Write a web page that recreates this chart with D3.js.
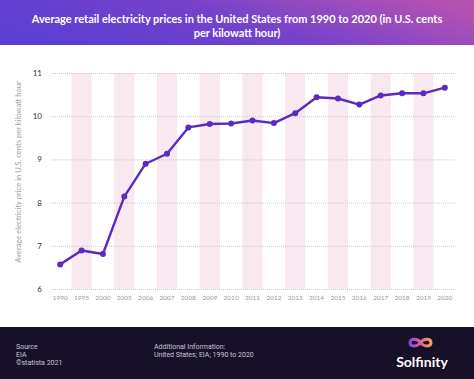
<!DOCTYPE html>
<html><head><meta charset="utf-8">
<script src="https://cdn.jsdelivr.net/npm/d3@7"></script>
<style>
html,body{margin:0;padding:0;background:#fff;}
svg{display:block;}
</style></head>
<body>
<script>
const years = ["1990","1995","2000","2005","2006","2007","2008","2009","2010","2011","2012","2013","2014","2015","2016","2017","2018","2019","2020"];
const prices = [6.57,6.89,6.81,8.14,8.90,9.13,9.74,9.82,9.83,9.90,9.84,10.07,10.44,10.41,10.27,10.48,10.53,10.53,10.66];
const yTicks = [6,7,8,9,10,11];
const titleLines = ["Average retail electricity prices in the United States from 1990 to 2020 (in U.S. cents","per kilowatt hour)"];
const yAxisTitle = "Average electricity price in U.S. cents per kilowatt hour";
const sourceLines = ["Source","EIA","©statista 2021"];
const infoLines = ["Additional Information:","United States; EIA; 1990 to 2020"];
const brand = "Solfinity";

const W = 474, H = 379;
const svg = d3.select("body").append("svg").attr("width", W).attr("height", H);
const defs = svg.append("defs");
const hg = defs.append("linearGradient").attr("id","hg").attr("x1","0").attr("y1","0.6").attr("x2","1").attr("y2","0.3");
hg.append("stop").attr("offset","0").attr("stop-color","#5b3fd2");
hg.append("stop").attr("offset","0.5").attr("stop-color","#7442cc");
hg.append("stop").attr("offset","1").attr("stop-color","#b452b2");
const lg = defs.append("linearGradient").attr("id","lg").attr("x1","0").attr("y1","0").attr("x2","1").attr("y2","0");
lg.append("stop").attr("offset","0").attr("stop-color","#7b4fe0");
lg.append("stop").attr("offset","0.5").attr("stop-color","#e0609a");
lg.append("stop").attr("offset","1").attr("stop-color","#f5a04a");

// header
svg.append("rect").attr("x",0).attr("y",0).attr("width",W).attr("height",45).attr("fill","url(#hg)");
svg.append("g").selectAll("text").data(titleLines).join("text")
  .attr("x", W/2).attr("y",(d,i)=>23+i*14)
  .attr("text-anchor","middle").attr("fill","#fff")
  .style("font-family","Lato, 'Open Sans', sans-serif").style("font-weight","700").style("font-size","11px")
  .text(d=>d);

// scales
const x = d3.scaleBand().domain(years).range([49.5,455.5]).padding(0);
const y = d3.scaleLinear().domain([6,11]).range([289,73]);

// alternate bands
svg.append("g").selectAll("rect").data(years.filter((d,i)=>i%2===1)).join("rect")
  .attr("x",d=>x(d)+x.bandwidth()*0.03).attr("width",x.bandwidth()*0.94)
  .attr("y",y(11)).attr("height",y(6)-y(11))
  .attr("fill","#f8e9f1");

// grid
const yAxis = d3.axisLeft(y).tickValues(yTicks).tickSize(-(455.5-51)).tickPadding(9).tickFormat(d3.format("d"));
const gy = svg.append("g").attr("transform","translate(51,0)").call(yAxis);
gy.select(".domain").remove();
gy.selectAll(".tick line").attr("stroke","#c9c9c9").attr("stroke-dasharray","1,1").attr("stroke-width",1);
gy.selectAll(".tick text").attr("fill","#333").style("font-family","Lato, sans-serif").style("font-size","8px");

const xAxis = d3.axisBottom(x).tickSize(0).tickPadding(6);
const gx = svg.append("g").attr("transform","translate(0,289)").call(xAxis);
gx.select(".domain").remove();
gx.selectAll(".tick text").attr("fill","#9a9a9a").style("font-family","Lato, sans-serif").style("font-size","6.5px");

// y title
svg.append("text").attr("transform","translate(21,172) rotate(-90)")
  .attr("text-anchor","middle").attr("fill","#a0a0a0")
  .style("font-family","Lato, sans-serif").style("font-size","7.6px").text(yAxisTitle);

// line
const line = d3.line().x((d,i)=>x(years[i])+x.bandwidth()/2).y(d=>y(d));
svg.append("path").datum(prices).attr("d",line).attr("fill","none")
  .attr("stroke","#5a2bbd").attr("stroke-width",2.4).attr("stroke-linejoin","round");
svg.append("g").selectAll("circle").data(prices).join("circle")
  .attr("cx",(d,i)=>x(years[i])+x.bandwidth()/2).attr("cy",d=>y(d)).attr("r",3)
  .attr("fill","#5a2bbd");

// footer
svg.append("rect").attr("x",0).attr("y",327).attr("width",W).attr("height",H-327).attr("fill","#171029");
svg.append("g").selectAll("text").data(sourceLines).join("text")
  .attr("x",16).attr("y",(d,i)=>348.5+i*8).attr("fill","#c8c6d0")
  .style("font-family","Roboto, sans-serif").style("font-size","7px").text(d=>d);
svg.append("g").selectAll("text").data(infoLines).join("text")
  .attr("x",154).attr("y",(d,i)=>348.5+i*8).attr("fill","#c8c6d0")
  .style("font-family","Roboto, sans-serif").style("font-size","7px").text(d=>d);

// logo
const lgG = svg.append("g").attr("transform","translate(420.5,342.5)");
lgG.append("path")
  .attr("d","M0,0 C-3,-4.5 -10.5,-4.5 -10.5,0 C-10.5,4.5 -3,4.5 0,0 C3,-4.5 10.5,-4.5 10.5,0 C10.5,4.5 3,4.5 0,0")
  .attr("fill","none").attr("stroke","url(#lg)").attr("stroke-width",3);
svg.append("text").attr("x",422).attr("y",367).attr("text-anchor","middle").attr("fill","#fff")
  .style("font-family","Lato, sans-serif").style("font-weight","700").style("font-size","14px").text(brand);
</script>
</body></html>
